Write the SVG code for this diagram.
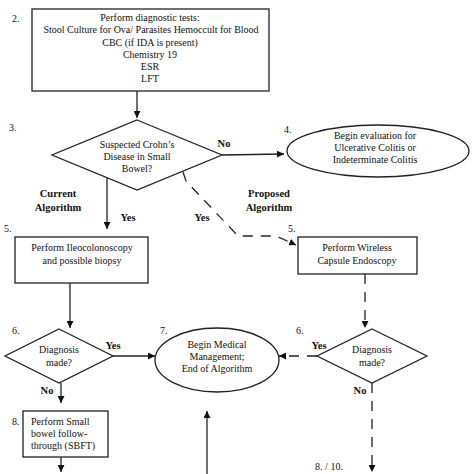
<svg xmlns="http://www.w3.org/2000/svg" width="474" height="474" viewBox="0 0 474 474">
<style>
text{font-family:"Liberation Serif","Times New Roman",serif;font-size:10px;fill:#111}
.c{text-anchor:middle}
.b{font-weight:bold;font-size:10.5px}
.shape{fill:#fff;stroke:#222;stroke-width:1.3}
.ln{fill:none;stroke:#222;stroke-width:1.3}
.dash{stroke-dasharray:10 8}
</style>
<defs>
<marker id="ah" viewBox="0 0 10 10" refX="10" refY="5" markerWidth="7" markerHeight="7" markerUnits="userSpaceOnUse" orient="auto">
<path d="M0,0 L10,5 L0,10 z" fill="#111"/>
</marker>
</defs>
<rect width="474" height="474" fill="#fff"/>

<g id="connectors">
<line class="ln" x1="137" y1="91" x2="137" y2="118" marker-end="url(#ah)"/>
<line class="ln" x1="222" y1="155" x2="284" y2="154" marker-end="url(#ah)"/>
<line class="ln" x1="107" y1="178" x2="107" y2="229" marker-end="url(#ah)"/>
<polyline class="ln dash" points="183,172 186,181 238,236 276,236 296,245" marker-end="url(#ah)"/>
<line class="ln" x1="70" y1="283" x2="70" y2="328" marker-end="url(#ah)"/>
<line class="ln dash" x1="365" y1="274" x2="365" y2="328" marker-end="url(#ah)"/>
<line class="ln" x1="113" y1="356" x2="155" y2="356" marker-end="url(#ah)"/>
<line class="ln dash" x1="317" y1="356" x2="279" y2="356" marker-end="url(#ah)"/>
<line class="ln" x1="61" y1="383" x2="61" y2="403" marker-end="url(#ah)"/>
<line class="ln" x1="61" y1="457" x2="61" y2="472" marker-end="url(#ah)"/>
<line class="ln" x1="207" y1="474" x2="207" y2="411" marker-end="url(#ah)"/>
<line class="ln dash" x1="372" y1="383" x2="372" y2="472" marker-end="url(#ah)"/>
</g>

<g id="n2">
<rect class="shape" x="32" y="9" width="237" height="82"/>
<text x="12" y="22">2.</text>
<text class="c" x="150" y="21">Perform diagnostic tests:</text>
<text class="c" x="151" y="33">Stool Culture for Ova/ Parasites Hemoccult for Blood</text>
<text class="c" x="150" y="46">CBC (if IDA is present)</text>
<text class="c" x="150" y="58">Chemistry 19</text>
<text class="c" x="150" y="70">ESR</text>
<text class="c" x="150" y="82">LFT</text>
</g>

<g id="n3">
<polygon class="shape" points="137,120 222,155 137,190 52,155"/>
<text x="9" y="131">3.</text>
<text class="c" x="137" y="148">Suspected Crohn’s</text>
<text class="c" x="137" y="160">Disease in Small</text>
<text class="c" x="137" y="172">Bowel?</text>
<text class="b c" x="224" y="147">No</text>
</g>

<g id="n4">
<ellipse class="shape" cx="378" cy="151" rx="91" ry="26"/>
<text x="284" y="133">4.</text>
<text class="c" x="375" y="139">Begin evaluation for</text>
<text class="c" x="375" y="151">Ulcerative Colitis or</text>
<text class="c" x="375" y="163">Indeterminate Colitis</text>
</g>

<g id="labels">
<text class="b c" x="58" y="197">Current</text>
<text class="b c" x="58" y="211">Algorithm</text>
<text class="b c" x="269" y="197">Proposed</text>
<text class="b c" x="269" y="211">Algorithm</text>
<text class="b c" x="128" y="221">Yes</text>
<text class="b c" x="202" y="221">Yes</text>
</g>

<g id="n5a">
<rect class="shape" x="15" y="237" width="133" height="46"/>
<text x="4" y="232">5.</text>
<text class="c" x="82" y="251">Perform Ileocolonoscopy</text>
<text class="c" x="82" y="264">and possible biopsy</text>
</g>

<g id="n5b">
<rect class="shape" x="298" y="237" width="119" height="37"/>
<text x="288" y="232">5.</text>
<text class="c" x="357" y="251">Perform Wireless</text>
<text class="c" x="357" y="264">Capsule Endoscopy</text>
</g>

<g id="n6a">
<polygon class="shape" points="59,329 113,356 59,383 5,356"/>
<text x="12" y="334">6.</text>
<text class="c" x="59" y="353">Diagnosis</text>
<text class="c" x="59" y="366">made?</text>
<text class="b c" x="113" y="349">Yes</text>
<text class="b c" x="47" y="394">No</text>
</g>

<g id="n7">
<ellipse class="shape" cx="217" cy="360" rx="62" ry="32"/>
<text x="160" y="334">7.</text>
<text class="c" x="217" y="348">Begin Medical</text>
<text class="c" x="217" y="360">Management;</text>
<text class="c" x="217" y="372">End of Algorithm</text>
</g>

<g id="n6b">
<polygon class="shape" points="372,329 427,356 372,383 317,356"/>
<text x="296" y="334">6.</text>
<text class="c" x="372" y="353">Diagnosis</text>
<text class="c" x="372" y="366">made?</text>
<text class="b c" x="319" y="349">Yes</text>
<text class="b c" x="360" y="394">No</text>
</g>

<g id="n8">
<rect class="shape" x="23" y="411" width="85" height="46"/>
<text x="12" y="425">8.</text>
<text x="31" y="425">Perform Small</text>
<text x="31" y="437">bowel follow-</text>
<text x="31" y="449">through (SBFT)</text>
</g>

<text class="c" x="329" y="470">8. / 10.</text>
</svg>
